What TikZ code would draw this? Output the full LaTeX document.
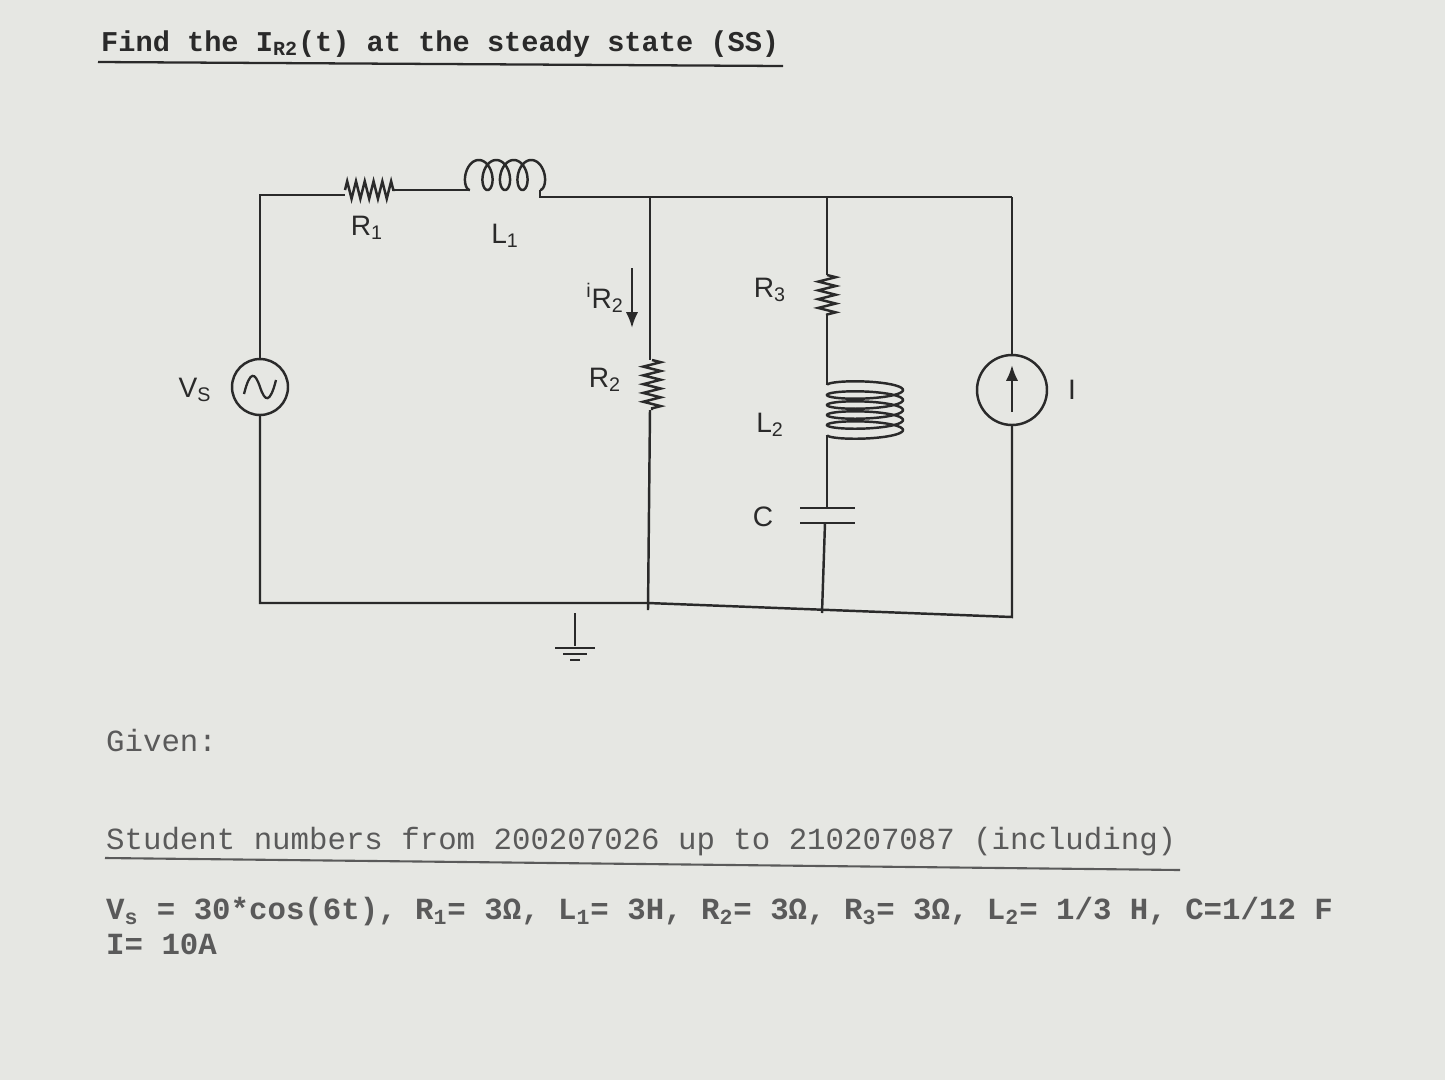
\documentclass[tikz,border=0pt]{standalone}
\usepackage{fontspec}
\setmainfont{Liberation Sans}
\newfontfamily\monof{Liberation Mono}
\usetikzlibrary{decorations.pathmorphing,arrows.meta}
\definecolor{bg}{HTML}{E6E7E3}
\definecolor{ink}{HTML}{2A2A2A}
\definecolor{gtxt}{HTML}{5A5A5A}
\tikzset{
  wire/.style={draw=ink,line width=1.4pt},
  res/.style={wire,decorate,decoration={zigzag,segment length=5pt,amplitude=5pt}},
  lbl/.style={font=\fontsize{16}{19}\selectfont,text=ink},
  ttl/.style={font=\monof\bfseries\fontsize{16.3}{19}\selectfont,text=ink,anchor=west},
  gvn/.style={font=\monof\fontsize{17.5}{21}\selectfont,text=gtxt,anchor=west},
  par/.style={font=\monof\bfseries\fontsize{17.5}{21}\selectfont,text=gtxt,anchor=west},
}
\begin{document}
\begin{tikzpicture}[x=0.02cm,y=-0.02cm]
\fill[bg] (0,0) rectangle (1445,1080);
\useasboundingbox (0,0) rectangle (1445,1080);
% title
\node[ttl] (title) at (95,44) {Find the I\textsubscript{R2}(t) at the steady state (SS)};
\draw[ink,line width=1.3pt] (98,62) -- (783,66);
% left loop
\draw[wire] (260,360) -- (260,195) -- (345,195);
\draw[res] (345,190) -- (395,190);
\draw[wire] (395,190) -- (470,190);
\draw[wire] plot[domain=0:25.13,samples=200,smooth] ({470+70*\x/25.13-9*sin(\x r)},{190-15*(1-cos(\x r))});
\draw[wire] (540,190) -- (540,197) -- (1012,197);
\node[lbl] (r1) at (367,228) {R\textsubscript{1}};
\node[lbl] (l1) at (505,236) {L\textsubscript{1}};
% source
\node[draw=ink,line width=1.4pt,circle,minimum size=1.12cm,inner sep=0pt,fill=bg] (vs) at (260,387) {};
\draw[ink,line width=1.3pt] (244,394) .. controls (250,370) and (255,372) .. (260,387) .. controls (265,402) and (270,404) .. (276,380);
\node[lbl] (vsl) at (195,390) {V\textsubscript{S}};
\draw[wire] (vs.north) -- (260,360);
\draw[wire] (vs.south) -- (260,603) -- (648,603) -- (1012,617) -- (1012,425);
% R2 branch
\draw[wire] (650,197) -- (650,360);
\draw[res] (652,360) -- (652,410);
\draw[wire] (650,410) -- (648,610);
\node[lbl] (r2) at (605,380) {R\textsubscript{2}};
\draw[ink,line width=1.4pt,-{Latex[length=9pt,width=7pt]}] (632,268) -- (632,328);
\node[lbl] (ir2) at (605,298) {\textsuperscript{i}R\textsubscript{2}};
% R3 branch
\draw[wire] (827,197) -- (827,275);
\draw[res] (827,275) -- (827,315);
\draw[wire] (827,315) -- (827,385);
\draw[wire] plot[domain=0:31.4,samples=300,smooth] ({827+38*(1-cos(\x r))},{385+50*\x/31.4-6*sin(\x r)});
\draw[wire] (827,435) -- (827,508);
\draw[wire] (800,508) -- (855,508) (800,523) -- (855,523);
\draw[wire] (825,523) -- (822,613);
\node[lbl] (r3) at (770,290) {R\textsubscript{3}};
\node[lbl] (l2) at (770,425) {L\textsubscript{2}};
\node[lbl] (cl) at (763,517) {C};
% current source
\draw[wire] (1012,197) -- (1012,355);
\node[draw=ink,line width=1.4pt,circle,minimum size=1.4cm,inner sep=0pt,fill=bg] (is) at (1012,390) {};
\draw[ink,line width=1.4pt,-{Latex[length=9pt,width=7pt]}] (1012,412) -- (1012,365);
\node[lbl] (il) at (1072,390) {I};
% ground
\draw[wire] (575,613) -- (575,646);
\draw[wire] (555,648) -- (595,648) (563,654) -- (587,654) (570,660) -- (580,660);
% text
\node[gvn] (given) at (100,740) {Given:};
\node[gvn] (stud) at (100,842) {Student numbers from 200207026 up to 210207087 (including)};
\draw[gtxt,line width=1.2pt] (105,858) -- (1180,870);
\node[par] (p1) at (100,912) {V\textsubscript{s} = 30*cos(6t), R\textsubscript{1}= 3Ω, L\textsubscript{1}= 3H, R\textsubscript{2}= 3Ω, R\textsubscript{3}= 3Ω, L\textsubscript{2}= 1/3 H, C=1/12 F};
\node[par] (p2) at (100,944) {I= 10A};
\end{tikzpicture}
\end{document}
